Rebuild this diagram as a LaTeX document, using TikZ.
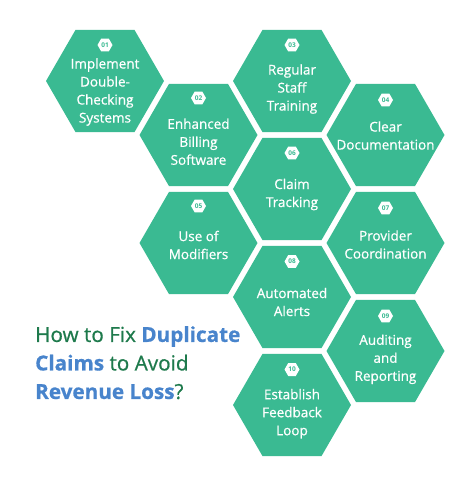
\documentclass[tikz,border=0pt]{standalone}
\usepackage{fontspec}
\setmainfont{Open Sans}
\newfontfamily\medfont{Open Sans}[FakeBold=0.7]
\usetikzlibrary{shapes.geometric}
\definecolor{hexfill}{RGB}{58,186,146}
\definecolor{titlegreen}{RGB}{30,122,76}
\definecolor{titleblue}{RGB}{72,132,204}
\begin{document}
\begin{tikzpicture}[x=1pt,y=-1pt,
  hexa/.style={regular polygon, regular polygon sides=6, minimum size=118pt, inner sep=0pt, fill=hexfill, draw=none},
  badge/.style={regular polygon, regular polygon sides=6, minimum size=15pt, inner sep=0pt, fill=white, text=hexfill, font=\fontsize{6.5}{6.5}\selectfont\bfseries},
  hexlabel/.style={text=white, align=center, inner sep=0pt, font=\medfont\fontsize{13.5}{18}\selectfont}]
\useasboundingbox (0,0) rectangle (474,477);
% hexagons
\node[hexa] (h01) at (105,81) {};
\node[hexa] (h02) at (198.5,135) {};
\node[hexa] (h03) at (292,81) {};
\node[hexa] (h04) at (385.5,135) {};
\node[hexa] (h05) at (198.5,243) {};
\node[hexa] (h06) at (292,189) {};
\node[hexa] (h07) at (385.5,243) {};
\node[hexa] (h08) at (292,297) {};
\node[hexa] (h09) at (385.5,351) {};
\node[hexa] (h10) at (292,405) {};
% badges
\node[badge] (b01) at (105,45) {01};
\node[badge] (b02) at (198.5,98) {02};
\node[badge] (b03) at (292,45) {03};
\node[badge] (b04) at (385.5,100) {04};
\node[badge] (b05) at (198.5,206) {05};
\node[badge] (b06) at (292,153) {06};
\node[badge] (b07) at (385.5,208) {07};
\node[badge] (b08) at (292,261.5) {08};
\node[badge] (b09) at (385.5,316) {09};
\node[badge] (b10) at (292,369.5) {10};
% labels
\node[hexlabel] (t01) at (105,92) {Implement\\Double-\\Checking\\Systems};
\node[hexlabel] (t02) at (198.5,141.7) {Enhanced\\Billing\\Software};
\node[hexlabel] (t03) at (292,89) {Regular\\Staff\\Training};
\node[hexlabel] (t04) at (385.5,135.5) {Clear\\Documentation};
\node[hexlabel] (t05) at (198.5,245) {Use of\\Modifiers};
\node[hexlabel] (t06) at (292,194.5) {Claim\\Tracking};
\node[hexlabel] (t07) at (385.5,244.5) {Provider\\Coordination};
\node[hexlabel] (t08) at (292,302) {Automated\\Alerts};
\node[hexlabel] (t09) at (385.5,359.3) {Auditing\\and\\Reporting};
\node[hexlabel] (t10) at (292,413.7) {Establish\\Feedback\\Loop};
% title
\node[anchor=north west, inner sep=0pt, align=left, text=titlegreen,
      font=\medfont\fontsize{20.7}{28.5}\selectfont] (title) at (35,326)
  {How to Fix \textcolor{titleblue}{\bfseries Duplicate}\\
   \textcolor{titleblue}{\bfseries Claims} to Avoid\\
   \textcolor{titleblue}{\bfseries Revenue Loss}?};
\end{tikzpicture}
\end{document}
